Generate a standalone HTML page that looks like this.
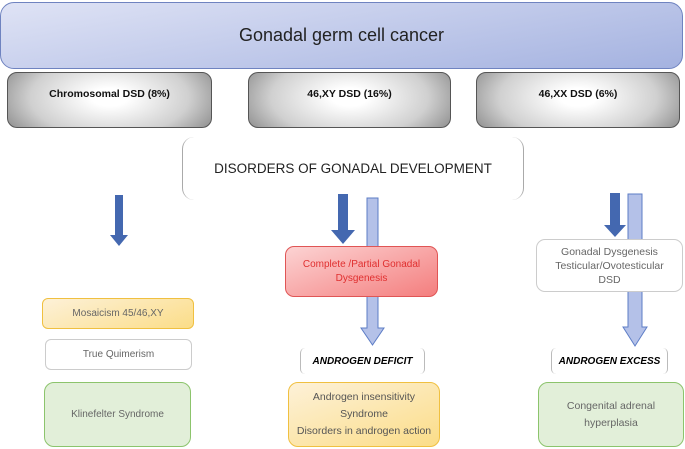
<!DOCTYPE html>
<html><head><style>
body{margin:0;width:685px;height:449px;background:#fff;position:relative;overflow:hidden;font-family:"Liberation Sans",sans-serif}
.b{position:absolute;box-sizing:border-box;display:flex;align-items:center;justify-content:center;text-align:center}
.g{border:1px solid #555;border-radius:10px;background:radial-gradient(ellipse 60% 110% at 50% 45%,#fff 15%,#d0d0d0 65%,#8a8a8a 100%);font-size:10.5px;font-weight:bold;color:#111;padding-bottom:12px}
.s{font-size:10px;color:#666;line-height:14px}
</style></head><body>
<div class="b" style="left:0;top:2px;width:683px;height:67px;border:1px solid #6f83c0;border-radius:14px;background:linear-gradient(170deg,#dfe3f5,#a4b2e0);font-size:18px;color:#222">Gonadal germ cell cancer</div>
<div class="b g" style="left:7px;top:72px;width:205px;height:56px">Chromosomal DSD (8%)</div>
<div class="b g" style="left:248px;top:72px;width:203px;height:56px">46,XY DSD (16%)</div>
<div class="b g" style="left:476px;top:72px;width:204px;height:56px">46,XX DSD (6%)</div>
<div class="b" style="left:182px;top:137px;width:342px;height:63px;border:1px solid #aaa;border-top:none;border-bottom:none;border-radius:12px;font-size:13.5px;color:#222">DISORDERS OF GONADAL DEVELOPMENT</div>
<svg style="position:absolute;left:0;top:0" width="685" height="449">
<g fill="#4468b0">
<polygon points="115,195 123,195 123,235 128,235 119,246 110,235 115,235"/>
<polygon points="338,194 348,194 348,230 355,230 343,244 331,230 338,230"/>
<polygon points="610,193 620,193 620,225 626,225 615,237 604,225 610,225"/>
</g>
<g fill="#b4c1e8" stroke="#5d7dc6" stroke-width="1">
<polygon points="367,198 378,198 378,328 384,328 372.5,345 361,328 367,328"/>
<polygon points="628,194 642,194 642,327 647,327 635,346 623,327 628,327"/>
</g>
</svg>
<div class="b s" style="left:285px;top:246px;width:153px;height:51px;border:1px solid #e05555;border-radius:9px;background:linear-gradient(160deg,#fcd3d3,#f47e7e);color:#e03030">Complete /Partial Gonadal<br>Dysgenesis</div>
<div class="b s" style="left:536px;top:239px;width:147px;height:53px;border:1px solid #ccc;border-radius:9px;background:#fff;font-size:10.5px">Gonadal Dysgenesis<br>Testicular/Ovotesticular<br>DSD</div>
<div class="b s" style="left:42px;top:298px;width:152px;height:31px;border:1px solid #f0c040;border-radius:6px;background:linear-gradient(160deg,#fdf1d8,#fbdd88)">Mosaicism 45/46,XY</div>
<div class="b s" style="left:45px;top:339px;width:147px;height:31px;border:1px solid #ccc;border-radius:6px">True Quimerism</div>
<div class="b s" style="left:44px;top:382px;width:147px;height:65px;border:1px solid #8cc46c;border-radius:10px;background:#e2efd9">Klinefelter Syndrome</div>
<div class="b" style="left:300px;top:348px;width:125px;height:26px;border:1px solid #bbb;border-top:none;border-bottom:none;border-radius:5px;font-size:10px;font-weight:bold;font-style:italic">ANDROGEN DEFICIT</div>
<div class="b" style="left:551px;top:348px;width:117px;height:26px;border:1px solid #bbb;border-top:none;border-bottom:none;border-radius:5px;font-size:10px;font-weight:bold;font-style:italic">ANDROGEN EXCESS</div>
<div class="b s" style="left:288px;top:382px;width:152px;height:65px;border:1px solid #f0c040;border-radius:10px;background:linear-gradient(160deg,#fdf1d8,#fbdd88);font-size:10.5px;line-height:17px;color:#555">Androgen insensitivity<br>Syndrome<br>Disorders in androgen action</div>
<div class="b s" style="left:538px;top:382px;width:146px;height:65px;border:1px solid #8cc46c;border-radius:10px;background:#e2efd9;font-size:10.5px;line-height:17px">Congenital adrenal<br>hyperplasia</div>
</body></html>
